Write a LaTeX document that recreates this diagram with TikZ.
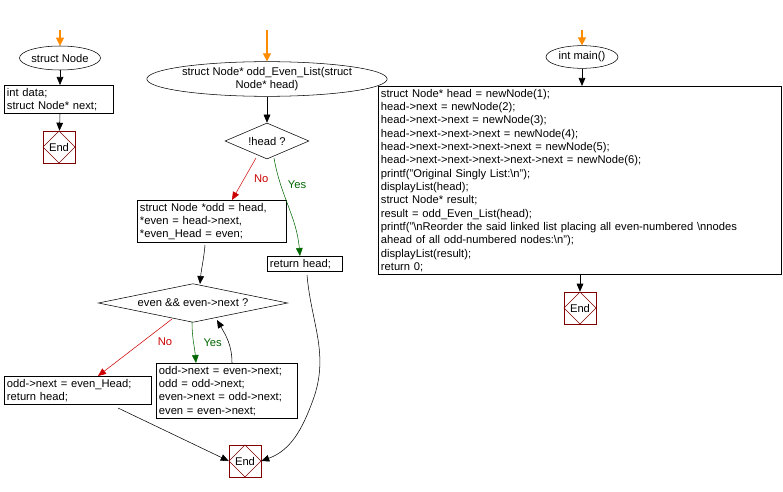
\documentclass[tikz,border=0pt]{standalone}
\usepackage{fontspec}
\setmainfont{Liberation Sans}
\usetikzlibrary{shapes.geometric,arrows.meta}
\begin{document}
\begin{tikzpicture}[x=0.75pt,y=-0.75pt,font=\fontsize{8.4}{10}\selectfont,
  box/.style={draw,align=left,inner sep=2pt,anchor=north west},
  term/.style={draw,ellipse,inner sep=0pt,align=center},
  dec/.style={draw,diamond,aspect=2.4,inner sep=0pt},
  arr/.style={-{Triangle[length=6pt,width=5pt]}},
  start/.style={draw=orange!90!yellow,line width=0.8pt,-{Triangle[length=6pt,width=6pt]}},
  endn/.style={draw=red!50!black,minimum size=24pt,inner sep=0pt}]
\useasboundingbox (0,0) rectangle (783,492);
\newcommand{\myStopNode}[3]{%
  \node[endn] (#1) at (#2,#3) {End};
  \draw[red!50!black] (#2-16,#3) -- (#2,#3-16) -- (#2+16,#3) -- (#2,#3+16) -- cycle;}
% left
\coordinate (s1) at (60,30);
\node[term,minimum width=60pt,minimum height=18pt] (sn) at (60,58) {struct Node};
\node[box,text width=78pt] (b1) at (4,85) {int data;\\struct Node* next;};
\myStopNode{e1}{59}{147}
\draw[start] (s1) -- (sn);
\draw[arr] (sn) -- (b1.north -| sn);
\draw[arr] (b1.south -| sn) -- (e1);
% middle
\coordinate (s2) at (267,30);
\node[term,minimum width=158pt,minimum height=26pt] (f) at (267,79) {struct Node* odd\_Even\_List(struct\\Node* head)};
\node[dec,minimum width=63pt,minimum height=27pt] (d1) at (267,141) {!head ?};
\node[box,text width=108pt] (b2) at (137,200) {struct Node *odd = head,\\{}*even = head->next,\\{}*even\_Head = even;};
\node[box,text width=52pt] (b3) at (267,256) {return head;};
\node[dec,minimum width=142pt,minimum height=29pt,aspect=5] (d2) at (193,303) {even \&\& even->next ?};
\node[box,text width=106pt] (b4) at (4,376) {odd->next = even\_Head;\\return head;};
\node[box,text width=102pt] (b5) at (156,363) {odd->next = even->next;\\odd = odd->next;\\even->next = odd->next;\\even = even->next;};
\myStopNode{e2}{245}{461}
\draw[start] (s2) -- (f);
\draw[arr] (f) -- (d1);
\draw[arr,red!80!black] (256,158) -- node[right=4pt,pos=0.5,text=red!80!black]{No} (232,200);
\draw[arr,green!40!black] (274,158) to[out=-80,in=95] node[right=2pt,pos=0.25,text=green!40!black]{Yes} (300,256);
\draw[arr] (205,245) to[out=-95,in=85] (200,284);
\draw[arr,red!80!black] (172,319) -- node[right=8pt,pos=0.4,text=red!80!black]{No} (98,376);
\draw[arr,green!40!black] (192,322) to[out=-90,in=95] node[right=4pt,pos=0.5,text=green!40!black]{Yes} (196,363);
\draw[arr] (232,363) to[out=90,in=-60] (217,320);
\draw[arr] (118,408) -- (e2.west);
\draw[arr] (307,275) to[out=-85,in=70] (313,400) to[out=-110,in=20] (e2.east);
% right
\coordinate (s3) at (582,30);
\node[term,minimum width=54pt,minimum height=17pt] (m) at (582,57) {int main()};
\node[box,text width=298pt] (b6) at (378,86) {struct Node* head = newNode(1);\\
head->next = newNode(2);\\
head->next->next = newNode(3);\\
head->next->next->next = newNode(4);\\
head->next->next->next->next = newNode(5);\\
head->next->next->next->next->next = newNode(6);\\
printf("Original Singly List:\textbackslash n");\\
displayList(head);\\
struct Node* result;\\
result = odd\_Even\_List(head);\\
printf("\textbackslash nReorder the said linked list placing all even-numbered \textbackslash nnodes\\
ahead of all odd-numbered nodes:\textbackslash n");\\
displayList(result);\\
return 0;\\[6pt]};
\myStopNode{e3}{580}{308}
\draw[start] (s3) -- (m);
\draw[arr] (m) -- (b6.north -| m);
\draw[arr] (b6.south -| e3) -- (e3);
\end{tikzpicture}
\end{document}
